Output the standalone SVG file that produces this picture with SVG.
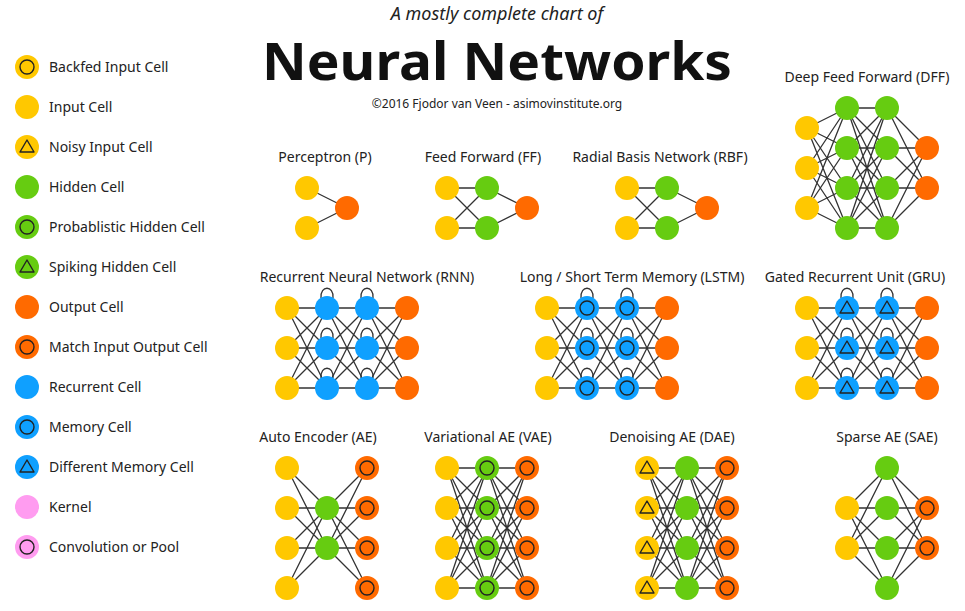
<svg xmlns="http://www.w3.org/2000/svg" xmlns:xlink="http://www.w3.org/1999/xlink" width="965" height="611" viewBox="0 0 965 611">
<style>
text{font-family:"Noto Sans","Open Sans",sans-serif;fill:#222}
.lg{font-size:14px}
.lb{font-size:14px;text-anchor:middle}
.cn{fill:none;stroke:#333;stroke-width:1.3}
.lp{fill:none;stroke:#333;stroke-width:1.3}
.y{fill:#FFC800}.g{fill:#66CC11}.o{fill:#FF6A00}.b{fill:#0FA0FF}.p{fill:#FF9CF0}
.mk{fill:none;stroke:#222;stroke-width:1.4}
</style>
<defs>
<path id="c33" d="M0 0L40 0M0 0L40 40M0 0L40 80M0 40L40 0M0 40L40 40M0 40L40 80M0 80L40 0M0 80L40 40M0 80L40 80"/>
<path id="c44" d="M0 0L40 0M0 0L40 40M0 0L40 80M0 0L40 120M0 40L40 0M0 40L40 40M0 40L40 80M0 40L40 120M0 80L40 0M0 80L40 40M0 80L40 80M0 80L40 120M0 120L40 0M0 120L40 40M0 120L40 80M0 120L40 120"/>
<path id="c34" d="M0 20L40 0M0 20L40 40M0 20L40 80M0 20L40 120M0 60L40 0M0 60L40 40M0 60L40 80M0 60L40 120M0 100L40 0M0 100L40 40M0 100L40 80M0 100L40 120"/>
<path id="c42" d="M0 0L40 40M0 0L40 80M0 40L40 40M0 40L40 80M0 80L40 40M0 80L40 80M0 120L40 40M0 120L40 80"/>
<path id="c24" d="M0 40L40 0M0 40L40 40M0 40L40 80M0 40L40 120M0 80L40 0M0 80L40 40M0 80L40 80M0 80L40 120"/>
<path id="c22" d="M0 0L40 0M0 0L40 40M0 40L40 0M0 40L40 40"/>
<path id="lp" d="M-6 -10C-7 -23 7 -23 6 -10"/>
<circle id="oc" r="7" class="mk"/>
<polygon id="tr" points="0,-7 7,5 -7,5" class="mk" stroke-linejoin="round"/>
</defs>

<text x="497" y="20" text-anchor="middle" font-size="18" font-style="italic">A mostly complete chart of</text>
<text x="497" y="80" text-anchor="middle" font-size="52" font-weight="bold" textLength="470" lengthAdjust="spacingAndGlyphs" style="fill:#111">Neural Networks</text>
<text x="497" y="108" text-anchor="middle" font-size="12">©2016 Fjodor van Veen - asimovinstitute.org</text>

<g id="legend">
<circle cx="27" cy="67" r="12" class="y"/><use href="#oc" x="27" y="67"/><text x="49" y="72" class="lg">Backfed Input Cell</text>
<circle cx="27" cy="107" r="12" class="y"/><text x="49" y="112" class="lg">Input Cell</text>
<circle cx="27" cy="147" r="12" class="y"/><use href="#tr" x="27" y="147"/><text x="49" y="152" class="lg">Noisy Input Cell</text>
<circle cx="27" cy="187" r="12" class="g"/><text x="49" y="192" class="lg">Hidden Cell</text>
<circle cx="27" cy="227" r="12" class="g"/><use href="#oc" x="27" y="227"/><text x="49" y="232" class="lg">Probablistic Hidden Cell</text>
<circle cx="27" cy="267" r="12" class="g"/><use href="#tr" x="27" y="267"/><text x="49" y="272" class="lg">Spiking Hidden Cell</text>
<circle cx="27" cy="307" r="12" class="o"/><text x="49" y="312" class="lg">Output Cell</text>
<circle cx="27" cy="347" r="12" class="o"/><use href="#oc" x="27" y="347"/><text x="49" y="352" class="lg">Match Input Output Cell</text>
<circle cx="27" cy="387" r="12" class="b"/><text x="49" y="392" class="lg">Recurrent Cell</text>
<circle cx="27" cy="427" r="12" class="b"/><use href="#oc" x="27" y="427"/><text x="49" y="432" class="lg">Memory Cell</text>
<circle cx="27" cy="467" r="12" class="b"/><use href="#tr" x="27" y="467"/><text x="49" y="472" class="lg">Different Memory Cell</text>
<circle cx="27" cy="507" r="12" class="p"/><text x="49" y="512" class="lg">Kernel</text>
<circle cx="27" cy="547" r="12" class="p"/><use href="#oc" x="27" y="547"/><text x="49" y="552" class="lg">Convolution or Pool</text>
</g>

<g id="connectors" class="cn">
<path d="M307 188L347 208M307 228L347 208"/>
<use href="#c22" x="447" y="188"/><path d="M487 188L527 208M487 228L527 208"/>
<use href="#c22" x="627" y="188"/><path d="M667 188L707 208M667 228L707 208"/>
<use href="#c34" x="807" y="108"/><use href="#c44" x="847" y="108"/><use href="#c42" x="887" y="108"/>
<use href="#c33" x="287" y="308"/><use href="#c33" x="327" y="308"/><use href="#c33" x="367" y="308"/>
<use href="#c33" x="547" y="308"/><use href="#c33" x="587" y="308"/><use href="#c33" x="627" y="308"/>
<use href="#c33" x="807" y="308"/><use href="#c33" x="847" y="308"/><use href="#c33" x="887" y="308"/>
<use href="#c42" x="287" y="468"/><use href="#c24" x="327" y="468"/>
<use href="#c44" x="447" y="468"/><use href="#c44" x="487" y="468"/>
<use href="#c44" x="647" y="468"/><use href="#c44" x="687" y="468"/>
<use href="#c24" x="847" y="468"/><use href="#c42" x="887" y="468"/>
<g class="lp">
<use href="#lp" x="327" y="308"/><use href="#lp" x="367" y="308"/><use href="#lp" x="327" y="348"/><use href="#lp" x="367" y="348"/><use href="#lp" x="327" y="388"/><use href="#lp" x="367" y="388"/>
<use href="#lp" x="587" y="308"/><use href="#lp" x="627" y="308"/><use href="#lp" x="587" y="348"/><use href="#lp" x="627" y="348"/><use href="#lp" x="587" y="388"/><use href="#lp" x="627" y="388"/>
<use href="#lp" x="847" y="308"/><use href="#lp" x="887" y="308"/><use href="#lp" x="847" y="348"/><use href="#lp" x="887" y="348"/><use href="#lp" x="847" y="388"/><use href="#lp" x="887" y="388"/>
</g>
</g>

<g id="perceptron">
<text x="325" y="162" class="lb">Perceptron (P)</text>
<circle cx="307" cy="188" r="12" class="y"/><circle cx="307" cy="228" r="12" class="y"/><circle cx="347" cy="208" r="12" class="o"/>
</g>
<g id="ff">
<text x="483" y="162" class="lb">Feed Forward (FF)</text>
<circle cx="447" cy="188" r="12" class="y"/><circle cx="447" cy="228" r="12" class="y"/>
<circle cx="487" cy="188" r="12" class="g"/><circle cx="487" cy="228" r="12" class="g"/>
<circle cx="527" cy="208" r="12" class="o"/>
</g>
<g id="rbf">
<text x="660" y="162" class="lb">Radial Basis Network (RBF)</text>
<circle cx="627" cy="188" r="12" class="y"/><circle cx="627" cy="228" r="12" class="y"/>
<circle cx="667" cy="188" r="12" class="g"/><circle cx="667" cy="228" r="12" class="g"/>
<circle cx="707" cy="208" r="12" class="o"/>
</g>
<g id="dff">
<text x="867" y="82" class="lb">Deep Feed Forward (DFF)</text>
<circle cx="807" cy="128" r="12" class="y"/><circle cx="807" cy="168" r="12" class="y"/><circle cx="807" cy="208" r="12" class="y"/>
<circle cx="847" cy="108" r="12" class="g"/><circle cx="847" cy="148" r="12" class="g"/><circle cx="847" cy="188" r="12" class="g"/><circle cx="847" cy="228" r="12" class="g"/>
<circle cx="887" cy="108" r="12" class="g"/><circle cx="887" cy="148" r="12" class="g"/><circle cx="887" cy="188" r="12" class="g"/><circle cx="887" cy="228" r="12" class="g"/>
<circle cx="927" cy="148" r="12" class="o"/><circle cx="927" cy="188" r="12" class="o"/>
</g>
<g id="rnn">
<text x="367" y="282" class="lb">Recurrent Neural Network (RNN)</text>
<circle cx="287" cy="308" r="12" class="y"/><circle cx="287" cy="348" r="12" class="y"/><circle cx="287" cy="388" r="12" class="y"/>
<circle cx="327" cy="308" r="12" class="b"/><circle cx="327" cy="348" r="12" class="b"/><circle cx="327" cy="388" r="12" class="b"/>
<circle cx="367" cy="308" r="12" class="b"/><circle cx="367" cy="348" r="12" class="b"/><circle cx="367" cy="388" r="12" class="b"/>
<circle cx="407" cy="308" r="12" class="o"/><circle cx="407" cy="348" r="12" class="o"/><circle cx="407" cy="388" r="12" class="o"/>
</g>
<g id="lstm">
<text x="632" y="282" class="lb">Long / Short Term Memory (LSTM)</text>
<circle cx="547" cy="308" r="12" class="y"/><circle cx="547" cy="348" r="12" class="y"/><circle cx="547" cy="388" r="12" class="y"/>
<circle cx="587" cy="308" r="12" class="b"/><circle cx="587" cy="348" r="12" class="b"/><circle cx="587" cy="388" r="12" class="b"/>
<circle cx="627" cy="308" r="12" class="b"/><circle cx="627" cy="348" r="12" class="b"/><circle cx="627" cy="388" r="12" class="b"/>
<use href="#oc" x="587" y="308"/><use href="#oc" x="587" y="348"/><use href="#oc" x="587" y="388"/>
<use href="#oc" x="627" y="308"/><use href="#oc" x="627" y="348"/><use href="#oc" x="627" y="388"/>
<circle cx="667" cy="308" r="12" class="o"/><circle cx="667" cy="348" r="12" class="o"/><circle cx="667" cy="388" r="12" class="o"/>
</g>
<g id="gru">
<text x="855" y="282" class="lb">Gated Recurrent Unit (GRU)</text>
<circle cx="807" cy="308" r="12" class="y"/><circle cx="807" cy="348" r="12" class="y"/><circle cx="807" cy="388" r="12" class="y"/>
<circle cx="847" cy="308" r="12" class="b"/><circle cx="847" cy="348" r="12" class="b"/><circle cx="847" cy="388" r="12" class="b"/>
<circle cx="887" cy="308" r="12" class="b"/><circle cx="887" cy="348" r="12" class="b"/><circle cx="887" cy="388" r="12" class="b"/>
<use href="#tr" x="847" y="308"/><use href="#tr" x="847" y="348"/><use href="#tr" x="847" y="388"/>
<use href="#tr" x="887" y="308"/><use href="#tr" x="887" y="348"/><use href="#tr" x="887" y="388"/>
<circle cx="927" cy="308" r="12" class="o"/><circle cx="927" cy="348" r="12" class="o"/><circle cx="927" cy="388" r="12" class="o"/>
</g>
<g id="ae">
<text x="318" y="442" class="lb">Auto Encoder (AE)</text>
<circle cx="287" cy="468" r="12" class="y"/><circle cx="287" cy="508" r="12" class="y"/><circle cx="287" cy="548" r="12" class="y"/><circle cx="287" cy="588" r="12" class="y"/>
<circle cx="327" cy="508" r="12" class="g"/><circle cx="327" cy="548" r="12" class="g"/>
<circle cx="367" cy="468" r="12" class="o"/><circle cx="367" cy="508" r="12" class="o"/><circle cx="367" cy="548" r="12" class="o"/><circle cx="367" cy="588" r="12" class="o"/>
<use href="#oc" x="367" y="468"/><use href="#oc" x="367" y="508"/><use href="#oc" x="367" y="548"/><use href="#oc" x="367" y="588"/>
</g>
<g id="vae">
<text x="488" y="442" class="lb">Variational AE (VAE)</text>
<circle cx="447" cy="468" r="12" class="y"/><circle cx="447" cy="508" r="12" class="y"/><circle cx="447" cy="548" r="12" class="y"/><circle cx="447" cy="588" r="12" class="y"/>
<circle cx="487" cy="468" r="12" class="g"/><circle cx="487" cy="508" r="12" class="g"/><circle cx="487" cy="548" r="12" class="g"/><circle cx="487" cy="588" r="12" class="g"/>
<use href="#oc" x="487" y="468"/><use href="#oc" x="487" y="508"/><use href="#oc" x="487" y="548"/><use href="#oc" x="487" y="588"/>
<circle cx="527" cy="468" r="12" class="o"/><circle cx="527" cy="508" r="12" class="o"/><circle cx="527" cy="548" r="12" class="o"/><circle cx="527" cy="588" r="12" class="o"/>
<use href="#oc" x="527" y="468"/><use href="#oc" x="527" y="508"/><use href="#oc" x="527" y="548"/><use href="#oc" x="527" y="588"/>
</g>
<g id="dae">
<text x="672" y="442" class="lb">Denoising AE (DAE)</text>
<circle cx="647" cy="468" r="12" class="y"/><circle cx="647" cy="508" r="12" class="y"/><circle cx="647" cy="548" r="12" class="y"/><circle cx="647" cy="588" r="12" class="y"/>
<use href="#tr" x="647" y="468"/><use href="#tr" x="647" y="508"/><use href="#tr" x="647" y="548"/><use href="#tr" x="647" y="588"/>
<circle cx="687" cy="468" r="12" class="g"/><circle cx="687" cy="508" r="12" class="g"/><circle cx="687" cy="548" r="12" class="g"/><circle cx="687" cy="588" r="12" class="g"/>
<circle cx="727" cy="468" r="12" class="o"/><circle cx="727" cy="508" r="12" class="o"/><circle cx="727" cy="548" r="12" class="o"/><circle cx="727" cy="588" r="12" class="o"/>
<use href="#oc" x="727" y="468"/><use href="#oc" x="727" y="508"/><use href="#oc" x="727" y="548"/><use href="#oc" x="727" y="588"/>
</g>
<g id="sae">
<text x="887" y="442" class="lb">Sparse AE (SAE)</text>
<circle cx="847" cy="508" r="12" class="y"/><circle cx="847" cy="548" r="12" class="y"/>
<circle cx="887" cy="468" r="12" class="g"/><circle cx="887" cy="508" r="12" class="g"/><circle cx="887" cy="548" r="12" class="g"/><circle cx="887" cy="588" r="12" class="g"/>
<circle cx="927" cy="508" r="12" class="o"/><circle cx="927" cy="548" r="12" class="o"/>
<use href="#oc" x="927" y="508"/><use href="#oc" x="927" y="548"/>
</g>
</svg>
